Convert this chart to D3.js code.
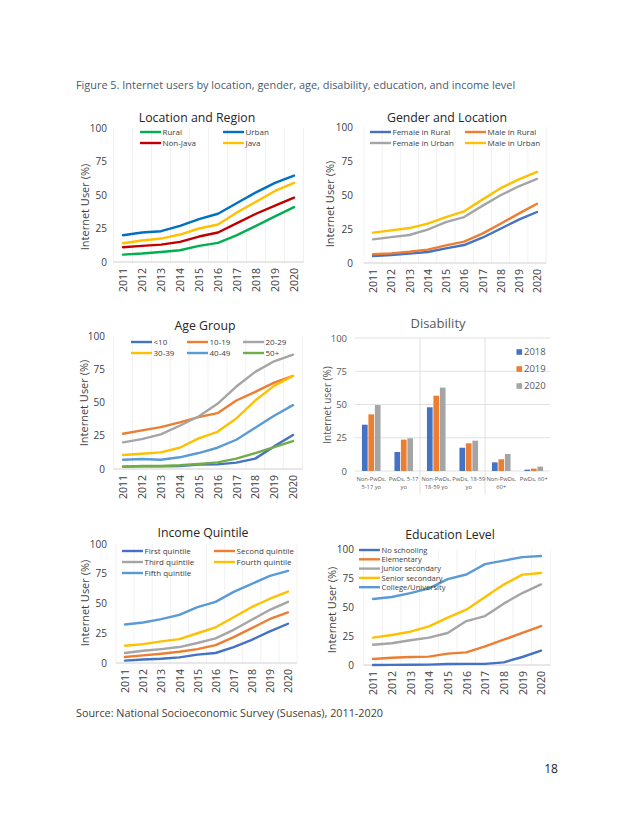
<!DOCTYPE html>
<html><head><meta charset="utf-8">
<script src="https://cdn.jsdelivr.net/npm/d3@7"></script>
<style>
html,body{margin:0;padding:0;background:#fff;}
svg{display:block;font-family:"Open Sans","Noto Sans",sans-serif;}
</style></head><body>
<svg id="c" width="638" height="826"></svg>
<script>
const years = [2011,2012,2013,2014,2015,2016,2017,2018,2019,2020];
const yTicks = [0,25,50,75,100];

// Location and Region
const locNames = ["Rural","Urban","Non-Java","Java"];
const locRural = [5.5,6.3,7.5,8.8,12,14.3,20,27,34,41];
const locUrban = [20,22,23,27,32,36,44,52,59,64.5];
const locNonJava = [11,12,13,15,19,22,29,36,42,48];
const locJava = [14,16,17.5,20.5,25,28,37,45,53,59];

// Gender and Location
const genNames = ["Female in Rural","Male in Rural","Female in Urban","Male in Urban"];
const genFemRural = [5.1,5.9,6.9,8.1,10.8,13.2,18.6,25.2,31.9,37.5];
const genMaleRural = [6.4,7.1,8.3,9.8,13,15.7,21.6,28.9,36.3,43.6];
const genFemUrban = [17.4,19,20.6,24.5,30,33.8,42,49.8,56.4,61.8];
const genMaleUrban = [22.3,24,25.7,28.9,33.8,38,46.6,55,61.5,67];

// Age Group
const ageNames = ["<10","10-19","20-29","30-39","40-49","50+"];
const ageU10 = [1.8,2,2,2.3,3.3,3.5,4.8,7.8,17,25.5];
const age1019 = [26.5,29,31.5,35,39,42,51.5,58,65,70];
const age2029 = [20,22.5,26,32.5,39.5,49,62,73,81,86];
const age3039 = [10.5,11.5,12.5,16,23,28,38,51.5,62.5,70];
const age4049 = [7,7.5,7,8.8,12,16,22,31,40,48];
const age50p = [1.8,2.3,2.3,2.8,3.8,5,7.8,12,16.5,21];

// Disability
const disCats = [["Non-PwDs,","5-17 yo"],["PwDs, 5-17","yo"],["Non-PwDs,","18-59 yo"],["PwDs, 18-59","yo"],["Non-PwDs,","60+"],["PwDs, 60+",""]];
const disYears = ["2018","2019","2020"];
const dis2018 = [34.8,14.3,47.9,17.5,6.5,1];
const dis2019 = [42.6,23.6,56.6,20.8,8.8,1.8];
const dis2020 = [49.6,24.6,62.7,22.8,12.8,3.3];

// Income Quintile
const incNames = ["First quintile","Second quintile","Third quintile","Fourth quintile","Fifth quintile"];
const incQ1 = [2,3,3.6,4.7,7,8.4,13.4,19.5,26.5,33];
const incQ2 = [5,6.4,7.8,9.5,11.7,15,21.8,29.3,37,42.5];
const incQ3 = [8.4,10.3,11.7,13.4,16.8,20.7,27.9,36.3,44.7,51.4];
const incQ4 = [14.5,15.9,18.2,20.1,25,30,38.5,47,54,60];
const incQ5 = [32.4,34,36.9,40.5,47,51.4,59.8,66.5,73.2,77.4];

// Education Level
const eduNames = ["No schooling","Elementary","Junior secondary","Senior secondary","College/University"];
const eduNone = [0,0.1,0.2,0.3,0.8,1,1,2.3,6.9,12.4];
const eduElem = [5.2,6.3,6.9,7.2,9.8,10.9,16.1,21.8,27.6,33.6];
const eduJunior = [17.5,18.7,21.3,23.6,27.6,37.9,42.2,52.9,62,69.5];
const eduSenior = [23.6,25.9,28.7,33.3,40.8,47.7,58.6,69.3,77.9,79.3];
const eduCollege = [56.9,58.6,62,66,74,78,87,90,93,94];

const C = {blue:"#4472C4",orange:"#ED7D31",gray:"#A5A5A5",yellow:"#FFC000",lblue:"#5B9BD5",green:"#70AD47"};
const svg = d3.select("#c");

// Figure caption
svg.append("text").attr("x",76).attr("y",89).attr("font-size",10.9).attr("fill","#4a5a6c")
  .text("Figure 5. Internet users by location, gender, age, disability, education, and income level");
svg.append("text").attr("x",76).attr("y",717).attr("font-size",10.8).attr("fill","#404040")
  .text("Source: National Socioeconomic Survey (Susenas), 2011-2020");
svg.append("text").attr("x",551).attr("y",773).attr("font-size",12).attr("fill","#222").attr("text-anchor","middle").text("18");

function linePanel(cfg){
  const g = svg.append("g");
  const x = d3.scalePoint().domain(years).range([cfg.xA,cfg.xB]);
  const step = x.step();
  const y = d3.scaleLinear().domain([0,100]).range([cfg.y0,cfg.y100]);
  const bounds = d3.range(years.length+1).map(i=>cfg.xA - step/2 + i*step);
  g.selectAll(".vg").data(bounds).join("line")
    .attr("x1",d=>d).attr("x2",d=>d).attr("y1",y(100)).attr("y2",y(0))
    .attr("stroke","#eeeeee").attr("stroke-width",0.8);
  g.append("line").attr("x1",bounds[0]).attr("x2",bounds[bounds.length-1])
    .attr("y1",y(0)).attr("y2",y(0)).attr("stroke","#d0d0d0").attr("stroke-width",1);
  const ya = d3.axisLeft(y).tickValues(yTicks).tickSize(0).tickPadding(0);
  const yg = g.append("g").attr("transform",`translate(${cfg.tickX},0)`).call(ya);
  yg.select(".domain").remove();
  yg.selectAll("text").attr("font-size",10).attr("fill","#404040").attr("font-family","'Open Sans','Noto Sans',sans-serif");
  const xa = d3.axisBottom(x).tickSize(0).tickPadding(0);
  const xg = g.append("g").attr("transform",`translate(0,${cfg.y0})`).call(xa);
  xg.select(".domain").remove();
  xg.selectAll("text").attr("font-size",10.5).attr("fill","#404040")
    .attr("font-family","'Open Sans','Noto Sans',sans-serif")
    .attr("text-anchor","end").attr("dy","0.35em")
    .attr("transform","translate(0,6) rotate(-90)").attr("x",0).attr("y",0);
  g.append("text").attr("transform",`translate(${cfg.ytX},${cfg.ytY}) rotate(-90)`)
    .attr("text-anchor","middle").attr("dy","0.35em").attr("font-size",11).attr("fill","#404040")
    .text("Internet User (%)");
  g.append("text").attr("x",cfg.tX).attr("y",cfg.tY).attr("text-anchor","middle").attr("dy","0.35em")
    .attr("font-size",12.3).attr("fill","#262626").text(cfg.title);
  const line = d3.line().x((d,i)=>x(years[i])).y(d=>y(d)).curve(d3.curveLinear);
  cfg.series.forEach(s=>{
    g.append("path").datum(s.v).attr("d",line).attr("fill","none")
      .attr("stroke",s.c).attr("stroke-width",2.4).attr("stroke-linejoin","round").attr("stroke-linecap","round");
  });
  const fs = cfg.legFs || 8;
  cfg.series.forEach((s,i)=>{
    const col = i % cfg.legCols.length, row = Math.floor(i / cfg.legCols.length);
    const lx = cfg.legCols[col], ly = cfg.legRows[row];
    g.append("line").attr("x1",lx).attr("x2",lx+21).attr("y1",ly).attr("y2",ly)
      .attr("stroke",s.c).attr("stroke-width",2.4);
    g.append("text").attr("x",lx+22.5).attr("y",ly).attr("dy","0.35em").attr("font-size",fs)
      .attr("fill","#404040").text(s.n);
  });
}

linePanel({title:"Location and Region",tX:197,tY:118,xA:123,xB:294,y0:262,y100:128,tickX:107,ytX:85,ytY:207,
  legCols:[140,223],legRows:[132,143],
  series:[{n:locNames[0],v:locRural,c:"#00B050"},{n:locNames[1],v:locUrban,c:"#0070C0"},
          {n:locNames[2],v:locNonJava,c:"#C00000"},{n:locNames[3],v:locJava,c:C.yellow}]});

linePanel({title:"Gender and Location",tX:447,tY:118,xA:373,xB:537,y0:263,y100:127,tickX:353,ytX:330,ytY:204,
  legCols:[370,465],legRows:[132,143],
  series:[{n:genNames[0],v:genFemRural,c:C.blue},{n:genNames[1],v:genMaleRural,c:C.orange},
          {n:genNames[2],v:genFemUrban,c:C.gray},{n:genNames[3],v:genMaleUrban,c:C.yellow}]});

linePanel({title:"Age Group",tX:205,tY:326,xA:123,xB:293,y0:469,y100:336,tickX:105,ytX:84,ytY:403,
  legCols:[131,187,243],legRows:[342,353],
  series:[{n:ageNames[0],v:ageU10,c:C.blue},{n:ageNames[1],v:age1019,c:C.orange},{n:ageNames[2],v:age2029,c:C.gray},
          {n:ageNames[3],v:age3039,c:C.yellow},{n:ageNames[4],v:age4049,c:C.lblue},{n:ageNames[5],v:age50p,c:C.green}]});

linePanel({title:"Income Quintile",tX:203,tY:533,xA:125,xB:288,y0:663,y100:544,tickX:107,ytX:85,ytY:603,
  legCols:[122,214],legRows:[551,562,573],
  series:[{n:incNames[0],v:incQ1,c:C.blue},{n:incNames[1],v:incQ2,c:C.orange},{n:incNames[2],v:incQ3,c:C.gray},
          {n:incNames[3],v:incQ4,c:C.yellow},{n:incNames[4],v:incQ5,c:C.lblue}]});

linePanel({title:"Education Level",tX:450,tY:535,xA:373,xB:541,y0:665,y100:549,tickX:354,ytX:332,ytY:610,
  legCols:[359],legRows:[550,559.3,568.6,577.9,587.2],legFs:7.6,
  series:[{n:eduNames[0],v:eduNone,c:C.blue},{n:eduNames[1],v:eduElem,c:C.orange},{n:eduNames[2],v:eduJunior,c:C.gray},
          {n:eduNames[3],v:eduSenior,c:C.yellow},{n:eduNames[4],v:eduCollege,c:C.lblue}]});

// Disability bar panel
(function(){
  const g = svg.append("g");
  const x0 = d3.scaleBand().domain(d3.range(disCats.length)).range([355,550]).paddingInner(0.38).paddingOuter(0.19);
  const x1 = d3.scaleBand().domain(disYears).range([0,x0.bandwidth()]).padding(0.12);
  const y = d3.scaleLinear().domain([0,100]).range([471,338]);
  const full = d3.scaleBand().domain(d3.range(disCats.length)).range([355,550]);
  g.selectAll(".hg").data(yTicks).join("line")
    .attr("x1",355).attr("x2",550).attr("y1",d=>y(d)).attr("y2",d=>y(d))
    .attr("stroke","#d9d9d9").attr("stroke-width",0.8);
  [2,4].forEach(i=>{
    const xx = full(i);
    g.append("line").attr("x1",xx).attr("x2",xx).attr("y1",y(100)).attr("y2",494).attr("stroke","#d9d9d9").attr("stroke-width",0.8);
  });
  const ya = d3.axisLeft(y).tickValues(yTicks).tickSize(0).tickPadding(0);
  const yg = g.append("g").attr("transform","translate(347,0)").call(ya);
  yg.select(".domain").remove();
  yg.selectAll("text").attr("font-size",9.5).attr("fill","#595959").attr("font-family","'Open Sans','Noto Sans',sans-serif");
  const vals = [dis2018,dis2019,dis2020];
  const cols = [C.blue,C.orange,C.gray];
  disYears.forEach((yr,k)=>{
    g.selectAll(".b"+k).data(vals[k]).join("rect")
      .attr("x",(d,i)=>x0(i)+x1(yr)).attr("width",x1.bandwidth())
      .attr("y",d=>y(d)).attr("height",d=>y(0)-y(d)).attr("fill",cols[k]);
  });
  disCats.forEach((lab,i)=>{
    const cx = full(i)+full.bandwidth()/2;
    const t = g.append("text").attr("text-anchor","middle").attr("font-size",5.8).attr("fill","#595959");
    t.append("tspan").attr("x",cx).attr("y",481).text(lab[0]);
    if(lab[1]) t.append("tspan").attr("x",cx).attr("y",489).text(lab[1]);
  });
  disYears.forEach((yr,k)=>{
    const ly = 352 + k*17;
    g.append("rect").attr("x",516.5).attr("y",ly-2.8).attr("width",5.6).attr("height",5.6).attr("fill",cols[k]);
    g.append("text").attr("x",524).attr("y",ly).attr("dy","0.35em").attr("font-size",9.5).attr("fill","#595959").text(yr);
  });
  g.append("text").attr("transform","translate(327,405) rotate(-90)").attr("text-anchor","middle").attr("dy","0.35em")
    .attr("font-size",10).attr("fill","#595959").text("Internet user (%)");
  g.append("text").attr("x",438).attr("y",323).attr("text-anchor","middle").attr("dy","0.35em")
    .attr("font-size",13).attr("fill","#595959").text("Disability");
})();
</script>
</body></html>
